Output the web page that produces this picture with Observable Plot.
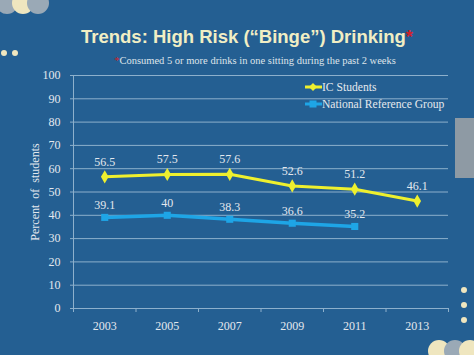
<!DOCTYPE html>
<html><head><meta charset="utf-8">
<script src="https://cdn.jsdelivr.net/npm/d3@7"></script>
<script src="https://cdn.jsdelivr.net/npm/@observablehq/plot@0.6"></script>
<style>
html,body{margin:0;padding:0}
body{background:#245f92;width:474px;height:355px;overflow:hidden;position:relative;font-family:"Liberation Serif",serif}
#chart{position:absolute;left:0;top:0}
.abs{position:absolute}
#title{left:0;width:494px;top:26px;text-align:center;font-family:"Liberation Sans",Arial,sans-serif;font-weight:bold;font-size:18.5px;color:#f1eec4;white-space:nowrap}
#title .star,#sub .star{color:#d0202a}
#sub{left:0;width:510px;top:55px;text-align:center;font-size:10.5px;color:#dfe4ea;white-space:nowrap}
.legend{font-size:11.6px;color:#e6eaee;white-space:nowrap;display:flex;align-items:center}
.dot{position:absolute;border-radius:50%}
</style></head>
<body>
<div id="chart"></div>
<div id="title" class="abs">Trends: High Risk (“Binge”) Drinking<span class="star">*</span></div>
<div id="sub" class="abs"><span class="star">*</span>Consumed 5 or more drinks in one sitting during the past 2 weeks</div>
<div id="legend"></div>
<div class="abs" style="left:455px;top:118px;width:19px;height:60px;background:#8e9aa4"></div>
<script>
const years = [2003, 2005, 2007, 2009, 2011, 2013];
const icStudents = [56.5, 57.5, 57.6, 52.6, 51.2, 46.1];
const nationalYears = [2003, 2005, 2007, 2009, 2011];
const nationalRef = [39.1, 40, 38.3, 36.6, 35.2];
const yTicks = [0, 10, 20, 30, 40, 50, 60, 70, 80, 90, 100];
const xBounds = [2002, 2004, 2006, 2008, 2010, 2012, 2014];
const seriesNames = ["IC Students", "National Reference Group"];

const ic = years.map((y, i) => ({year: y, value: icStudents[i]}));
const nat = nationalYears.map((y, i) => ({year: y, value: nationalRef[i]}));

const yellow = "#eef02e";
const blue = "#1ea5e6";
const grid = "#8db0cc";
const txt = "#e3e8ee";

const chart = Plot.plot({
  width: 474, height: 355,
  marginLeft: 73, marginRight: 26, marginTop: 75, marginBottom: 47,
  style: {background: "transparent", fontFamily: "'Liberation Serif', serif", fontSize: "12px", color: txt},
  x: {type: "linear", domain: [2002, 2014]},
  y: {domain: [0, 100]},
  marks: [
    Plot.ruleY(yTicks, {stroke: grid, strokeWidth: 1}),
    Plot.axisY({ticks: yTicks, tickSize: 3, stroke: grid, tickPadding: 10, fill: txt, fontSize: 12, label: null}),
    Plot.axisX({ticks: xBounds, tickSize: 4, stroke: grid, tickFormat: () => "", label: null}),
    Plot.axisX({ticks: years, tickSize: 0, tickPadding: 13, fill: txt, fontSize: 12, tickFormat: d => String(d), label: null}),
    Plot.ruleX([2002], {stroke: grid}),
    Plot.ruleY([0], {stroke: grid}),
    Plot.text(["Percent  of  students"], {frameAnchor: "left", textAnchor: "middle", dx: -38, rotate: -90, fill: txt, fontSize: 12}),
    Plot.line(ic, {x: "year", y: "value", stroke: yellow, strokeWidth: 3}),
    Plot.dot(ic, {x: "year", y: "value", symbol: "diamond", r: 4, fill: yellow}),
    Plot.line(nat, {x: "year", y: "value", stroke: blue, strokeWidth: 3.5}),
    Plot.dot(nat, {x: "year", y: "value", symbol: "square", r: 4, fill: blue}),
    Plot.text(ic, {x: "year", y: "value", text: d => String(d.value), dy: -15, fill: txt, fontSize: 12}),
    Plot.text(nat, {x: "year", y: "value", text: d => String(d.value), dy: -12, fill: txt, fontSize: 12})
  ]
});
document.getElementById("chart").append(chart);

// legend
const leg = document.getElementById("legend");
const legendItems = [
  {name: seriesNames[0], color: yellow, sym: "diamond", top: 80},
  {name: seriesNames[1], color: blue, sym: "square", top: 97}
];
legendItems.forEach(it => {
  const d = document.createElement("div");
  d.className = "abs legend";
  d.style.left = "305px"; d.style.top = it.top + "px";
  const marker = it.sym === "diamond"
    ? `<polygon points="8,3 12,7 8,11 4,7" fill="${it.color}"/>`
    : `<rect x="4.5" y="3.5" width="7" height="7" fill="${it.color}"/>`;
  d.innerHTML = `<svg width="17" height="14"><line x1="0" x2="17" y1="7" y2="7" stroke="${it.color}" stroke-width="3"/>${marker}</svg><span>${it.name}</span>`;
  leg.append(d);
});

// decorative circles
const deco = [
  [-4, -8, 22, "#9aa9b6"], [12, -8, 22, "#efe6bf"], [27, -8, 22, "#9aa9b6"],
  [1, 50, 6, "#efe6bf"], [12, 50, 6, "#efe6bf"],
  [461, 287, 6, "#efe6bf"], [461, 302, 6, "#efe6bf"], [461, 317, 6, "#efe6bf"],
  [428, 340, 22, "#efe6bf"], [444, 340, 22, "#9aa9b6"], [459, 340, 22, "#efe6bf"]
];
deco.forEach(([x, y, s, c]) => {
  const e = document.createElement("div");
  e.className = "dot";
  Object.assign(e.style, {left: x + "px", top: y + "px", width: s + "px", height: s + "px", background: c});
  document.body.append(e);
});
</script>
</body></html>
